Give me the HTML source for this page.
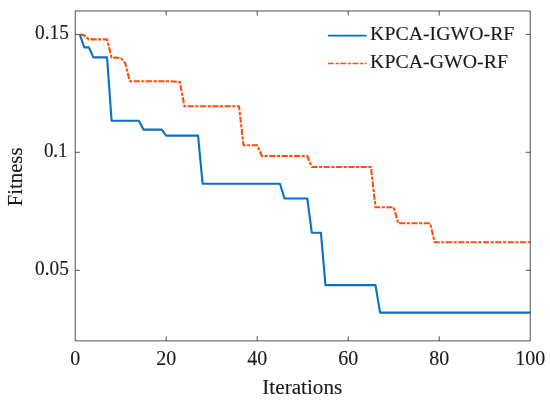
<!DOCTYPE html>
<html><head><meta charset="utf-8"><title>Fitness vs Iterations</title>
<style>
html,body{margin:0;padding:0;background:#fff;}
svg{display:block;}
text{font-family:"Liberation Serif",serif;fill:#1a1a1a;stroke:#1a1a1a;stroke-width:0.12px;}
</style></head><body>
<svg width="550" height="402" viewBox="0 0 550 402">
<rect width="550" height="402" fill="#fff"/>
<g stroke="#262626" stroke-width="0.8" fill="none">
<rect x="75.2" y="11.0" width="455.00" height="329.90"/>
<line x1="166.20" y1="340.9" x2="166.20" y2="336.30"/><line x1="166.20" y1="11.0" x2="166.20" y2="15.60"/><line x1="257.20" y1="340.9" x2="257.20" y2="336.30"/><line x1="257.20" y1="11.0" x2="257.20" y2="15.60"/><line x1="348.20" y1="340.9" x2="348.20" y2="336.30"/><line x1="348.20" y1="11.0" x2="348.20" y2="15.60"/><line x1="439.20" y1="340.9" x2="439.20" y2="336.30"/><line x1="439.20" y1="11.0" x2="439.20" y2="15.60"/><line x1="75.2" y1="34.4" x2="79.80" y2="34.4"/><line x1="530.2" y1="34.4" x2="525.60" y2="34.4"/><line x1="75.2" y1="152.3" x2="79.80" y2="152.3"/><line x1="530.2" y1="152.3" x2="525.60" y2="152.3"/><line x1="75.2" y1="270.3" x2="79.80" y2="270.3"/><line x1="530.2" y1="270.3" x2="525.60" y2="270.3"/>
</g>
<polyline points="79.75,34.50 84.30,35.40 88.85,39.40 107.05,39.40 111.60,57.70 120.70,57.70 125.25,63.40 129.80,81.30 170.75,81.30 179.85,82.00 184.40,106.20 239.00,106.20 243.55,145.30 257.20,145.30 261.75,156.00 307.25,156.00 311.80,167.00 370.95,167.00 375.50,207.30 393.70,207.30 398.25,223.30 430.10,223.30 434.65,242.20 530.20,242.20" fill="none" stroke="#FF4D10" stroke-width="2.1" stroke-dasharray="6.17 1.5 3.18 1.5" stroke-dashoffset="0" stroke-linejoin="round"/>
<polyline points="79.75,34.50 84.30,47.40 88.85,47.40 93.40,57.40 107.05,57.40 111.60,120.80 138.90,120.80 143.45,129.60 161.65,129.60 166.20,135.60 198.05,135.60 202.60,183.70 279.95,183.70 284.50,198.50 307.25,198.50 311.80,232.70 320.90,232.70 325.45,285.10 375.50,285.10 380.05,312.60 530.20,312.60" fill="none" stroke="#0872C2" stroke-width="2.1" stroke-linejoin="round"/>
<g font-size="20">
<text x="68.9" y="39.1" text-anchor="end" textLength="33.9" lengthAdjust="spacingAndGlyphs">0.15</text>
<text x="67.6" y="157.0" text-anchor="end" textLength="23.7" lengthAdjust="spacingAndGlyphs">0.1</text>
<text x="68.9" y="274.8" text-anchor="end" textLength="33.8" lengthAdjust="spacingAndGlyphs">0.05</text>
<text x="75.20" y="365.3" text-anchor="middle">0</text>
<text x="166.20" y="365.3" text-anchor="middle">20</text>
<text x="257.20" y="365.3" text-anchor="middle">40</text>
<text x="348.20" y="365.3" text-anchor="middle">60</text>
<text x="439.20" y="365.3" text-anchor="middle">80</text>
<text x="530.20" y="365.3" text-anchor="middle">100</text>
<text x="302.3" y="393.7" text-anchor="middle" textLength="80" lengthAdjust="spacingAndGlyphs">Iterations</text>
<text transform="translate(22.2,176.9) rotate(-90)" text-anchor="middle" textLength="58.7" lengthAdjust="spacingAndGlyphs">Fitness</text>
</g>
<line x1="327.9" y1="35.6" x2="366.5" y2="35.6" stroke="#0072BD" stroke-width="1.6"/>
<line x1="327.9" y1="63.5" x2="366.5" y2="63.5" stroke="#FF4D10" stroke-width="1.6" stroke-dasharray="5.9 1.8 3.0 1.6"/>
<g font-size="18.5">
<text x="370.1" y="40.4" textLength="144.3" lengthAdjust="spacingAndGlyphs">KPCA-IGWO-RF</text>
<text x="370.1" y="67.7" textLength="137.9" lengthAdjust="spacingAndGlyphs">KPCA-GWO-RF</text>
</g>
</svg>
</body></html>
